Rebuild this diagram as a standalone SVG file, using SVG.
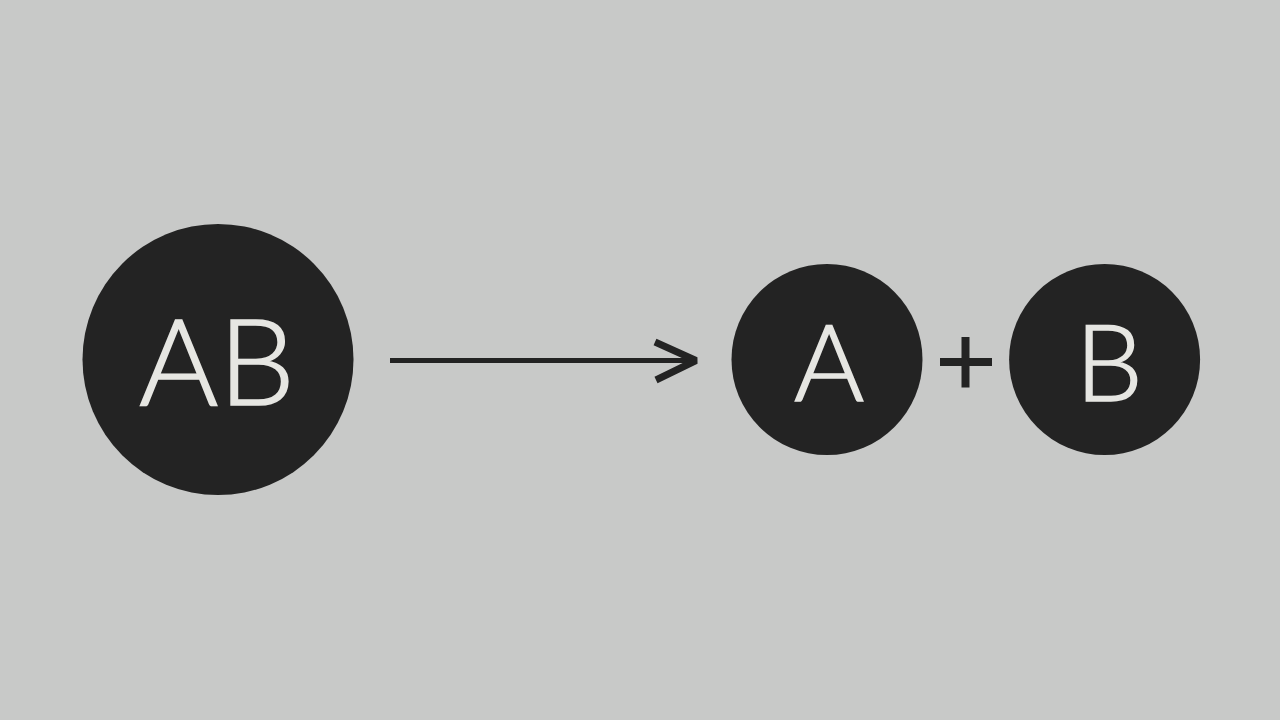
<svg xmlns="http://www.w3.org/2000/svg" width="1280" height="720" viewBox="0 0 1280 720">
  <style>
    .node { fill: #232323; }
    .label { fill: #e6e6e2; stroke: #e6e6e2; stroke-width: 1.6; font-family: Lato, "Open Sans", "Liberation Sans", sans-serif; font-weight: 300; text-anchor: middle; }
    .conn { stroke: #232323; fill: none; stroke-linecap: butt; stroke-linejoin: bevel; }
  </style>
  <rect width="1280" height="720" fill="#c8c9c8"/>
  <g id="node-AB">
    <circle class="node" cx="218" cy="359.5" r="135.5"/>
    <text class="label" x="217" y="404.5" font-size="121">AB</text>
  </g>
  <g id="node-A">
    <circle class="node" cx="827" cy="359.5" r="95.5"/>
    <text class="label" x="829" y="401" font-size="107">A</text>
  </g>
  <g id="node-B">
    <circle class="node" cx="1104.6" cy="359.5" r="95.5"/>
    <text class="label" x="1109" y="401" font-size="107">B</text>
  </g>
  <g id="connectors">
    <line class="conn" x1="390" y1="360.5" x2="694" y2="360.5" stroke-width="5"/>
    <polyline class="conn" points="655,342 696,360.5 656,380" stroke-width="7"/>
    <g id="plus">
      <line class="conn" x1="940" y1="362" x2="992" y2="362" stroke-width="8"/>
      <line class="conn" x1="965.5" y1="337" x2="965.5" y2="387.5" stroke-width="8"/>
    </g>
  </g>
</svg>
